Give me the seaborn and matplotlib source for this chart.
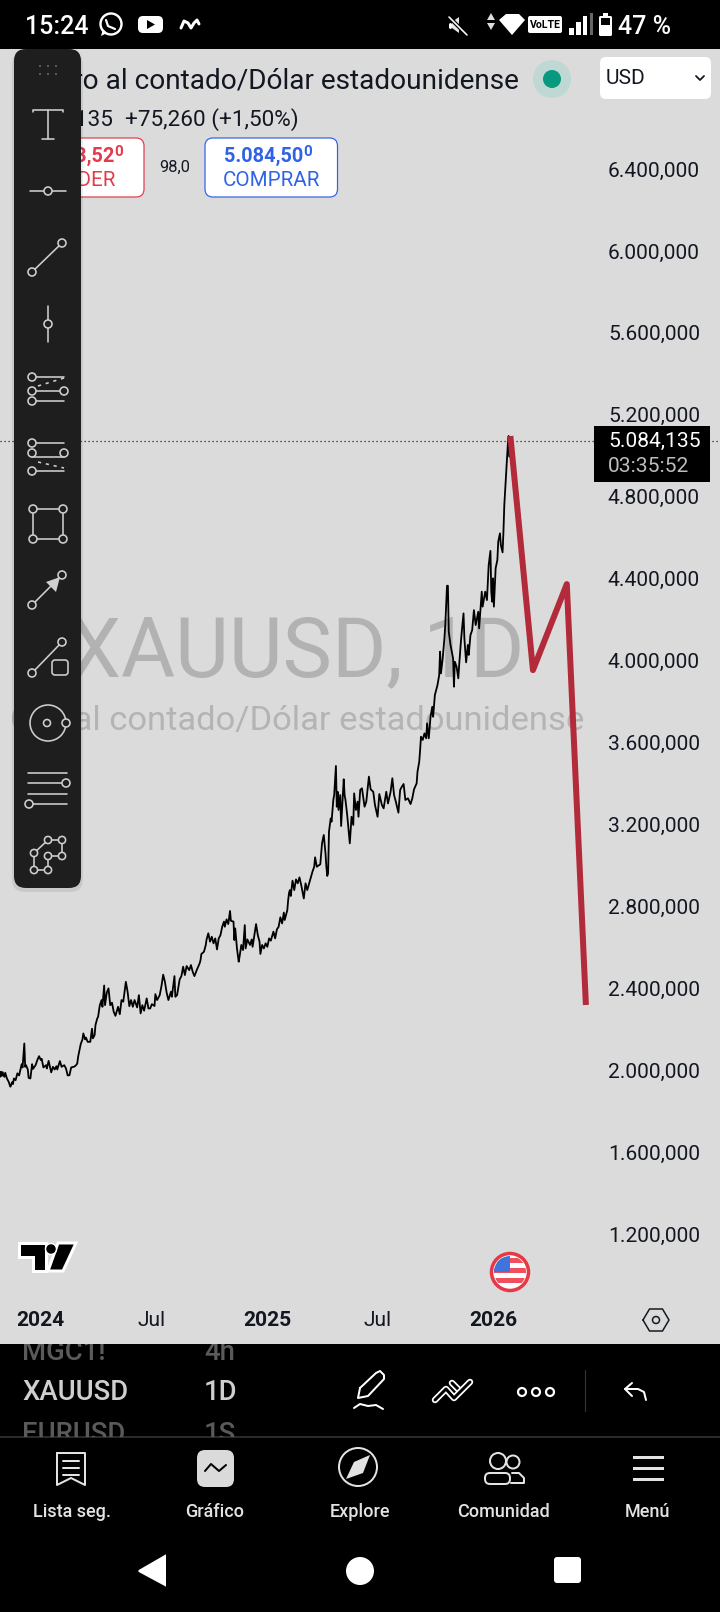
import matplotlib
matplotlib.use("Agg")
import matplotlib.pyplot as plt
import seaborn as sns
import pandas as pd
from matplotlib.patches import Circle, FancyBboxPatch, Polygon, Rectangle
from matplotlib.transforms import ScaledTranslation

# ---------- DATA ----------
# trading-session number (0 = first visible session) and XAUUSD price, thousands of the axis unit
bars = [0,1,2,3,5,6,8,10,11,12,14,15,16,18,20,22,23,25,26,28,29,30,32,33,35,37,38,41,43,45,47,48,50,53,54,56,58,59,
        61,63,65,66,69,71,74,76,78,80,82,85,87,89,90,92,93,95,96,98,99,101,104,106,107,109,110,112,113,115,117,118,
        120,121,123,125,127,129,131,133,136,138,140,142,145,147,149,151,153,155,158,160,162,164,166,169,171,173,
        175,178,179,181,184,186,188,190,192,194,197,198,201,202,204,207,209,211,213,215,218,220,222,224,227,230,
        231,232,235,237,238,240,242,244,246,248,250,252,254,256,258,259,261,263,265,266,269,270,271,273,275,276,
        278,280,282,283,285,288,290,291,293,295,297,299,300,302,304,306,308,310,312,315,317,319,321,323,325,327,
        328,331,332,333,334,335,337,339,341,343,345,347,350,352,354,356,360,362,363,365,369,371,373,375,376,377,
        378,379,381,382,384,385,387,388,389,390,392,393,396,397,398,400,401,403,405,407,408,410,412,413,415,417,
        420,422,425,427,430,432,435,437,440,442,445,447,450,452,454,456,459,461,463,465,467,470,473,475,477,480,
        481,483,484,485,487,489,491,492,494,496,498,499,501,504,506,507,508,510,512,513,515,516,517,519,522,523,
        524,526,528,529,531,532,534,535,537,539,540,542,544,546,548,551,552,555,556,559,561,563,565,566,567,568,
        569,571,573,574,576,577,579,580,581,583,584,585,586,587,588]
prices = [1972,1997,1976,1995,1972,1992,1964,1948,1935,1924,1946,1937,1964,1956,1989,1979,1997,2034,2018,2135,2021,
          2029,2008,1967,1964,2034,2011,2029,2054,2073,2054,2060,2018,2029,2013,2050,2013,1994,2021,2008,2024,2008,
          2049,2021,2029,2013,1979,1980,2018,2021,2026,2037,2070,2111,2132,2155,2184,2155,2164,2143,2143,2207,2160,
          2176,2225,2257,2265,2322,2347,2314,2418,2322,2383,2404,2322,2334,2290,2270,2314,2278,2347,2339,2436,2387,
          2317,2347,2314,2347,2311,2371,2282,2322,2295,2355,2306,2306,2327,2318,2376,2347,2371,2415,2471,2436,2383,
          2347,2388,2363,2464,2363,2371,2448,2464,2510,2469,2513,2493,2518,2485,2464,2497,2526,2542,2572,2583,2615,
          2643,2673,2632,2656,2624,2648,2594,2648,2664,2705,2730,2705,2741,2718,2782,2734,2730,2640,2697,2599,2534,
          2559,2616,2591,2713,2599,2643,2616,2643,2607,2664,2718,2664,2632,2572,2616,2599,2624,2607,2648,2637,2681,
          2648,2692,2705,2751,2721,2774,2738,2786,2835,2871,2884,2855,2930,2884,2936,2917,2946,2909,2843,2917,2884,
          2914,2974,2998,3044,2998,3010,3112,3153,3063,2998,2953,2966,3169,3234,3218,3324,3348,3490,3291,3364,3275,
          3348,3197,3425,3348,3324,3250,3202,3112,3242,3202,3356,3275,3316,3242,3373,3381,3291,3316,3438,3376,3364,
          3299,3242,3353,3299,3283,3364,3307,3364,3430,3348,3316,3262,3373,3389,3402,3324,3332,3304,3332,3376,3405,
          3462,3511,3568,3633,3617,3649,3625,3698,3625,3730,3779,3730,3836,3885,3934,4048,3942,4015,4113,4178,4370,
          4370,4146,4081,4015,3877,3999,3975,3918,3983,4097,4146,4235,4113,3996,4081,4032,4129,4154,4251,4178,4243,
          4162,4341,4268,4341,4300,4471,4540,4341,4292,4406,4268,4455,4496,4585,4626,4569,4533,4634,4764,4911,4992,
          5057,5101,5000,5074]
forecast_bars = [588, 614, 653, 675]
forecast_prices = [5101, 3958, 4378, 2323]
last_price = 5084.135
y_ticks = [1200, 1600, 2000, 2400, 2800, 3200, 3600, 4000, 4400, 4800, 5200, 5600, 6000, 6400]
y_labels = ["1.200,000", "1.600,000", "2.000,000", "2.400,000", "2.800,000", "3.200,000", "3.600,000",
            "4.000,000", "4.400,000", "4.800,000", "5.200,000", "5.600,000", "6.000,000", "6.400,000"]
x_ticks = [46, 175, 308, 435, 568]
x_labels = ["2024", "Jul", "2025", "Jul", "2026"]

# ---------- STYLE ----------
sns.set_theme(style="white")
plt.rcParams["font.family"] = ["Roboto", "DejaVu Sans"]
W, H = 720, 1612
PX = 0.72
BG = "#DBDBDB"
INK = "#131722"

fig = plt.figure(figsize=(W / 100, H / 100), dpi=100, facecolor="black")
TOP, BOTTOM = 49, 1344
ax = fig.add_axes([0, 1 - BOTTOM / H, 1, (BOTTOM - TOP) / H], facecolor=BG, zorder=1)
ui = fig.add_axes([0, 0, 1, 1], facecolor="none", zorder=2)
ui.set_xlim(0, W); ui.set_ylim(H, 0); ui.axis("off")

# ---------- CHART ----------
PX_PER_BAR, PX_PER_K, Y_REF_PX, Y_REF = 0.868, 0.2048, 170, 6400
ax.set_xlim(0, W / PX_PER_BAR)
ax.set_ylim(Y_REF - (BOTTOM - Y_REF_PX) / PX_PER_K, Y_REF + (Y_REF_PX - TOP) / PX_PER_K)

ohlc = pd.DataFrame({"bar": bars, "price": prices})
fc = pd.DataFrame({"bar": forecast_bars, "price": forecast_prices})
sns.lineplot(data=ohlc, x="bar", y="price", ax=ax, color="black", lw=1.3, estimator=None, sort=False, zorder=3)
sns.lineplot(data=fc, x="bar", y="price", ax=ax, color="#B32A3A", lw=6 * PX, estimator=None, sort=False, zorder=4,
             solid_joinstyle="round", solid_capstyle="butt")
price_line = ax.axhline(last_price, color="#222222", lw=0.9, ls=(0, (1, 2.2)), zorder=2)
price_line.set_transform(price_line.get_transform() + ScaledTranslation(0, -2 / 100, fig.dpi_scale_trans))
ax.set_xlabel(""); ax.set_ylabel("")
for s in ax.spines.values():
    s.set_visible(False)
ax.yaxis.tick_right()
ax.set_yticks(y_ticks)
ax.set_yticklabels(y_labels, ha="right", fontsize=21 * PX, color=INK)
ax.tick_params(axis="y", length=0, pad=-20 * PX)
for tick in ax.yaxis.get_major_ticks():
    tick.label2.set_transform(tick.label2.get_transform() + ScaledTranslation(0, 1 / 100, fig.dpi_scale_trans))
ax.set_xticks(x_ticks)
ax.set_xticklabels(x_labels, va="center", fontsize=21 * PX, color=INK)
for lab in ax.get_xticklabels():
    if lab.get_text() != "Jul":
        lab.set_fontweight("bold")
ax.tick_params(axis="x", length=0, pad=-24 * PX)

# watermark, behind the series
ax.text(297, 645, "XAUUSD, 1D", transform=ui.transData, ha="center", va="center_baseline", fontsize=83 * PX,
        color="#B2B2B2", zorder=1)
ax.text(297, 717, "Oro al contado/Dólar estadounidense", transform=ui.transData, ha="center",
        va="center_baseline", fontsize=34.5 * PX, color="#B4B4B4", zorder=1)


# ---------- UI HELPERS (pixel space) ----------
def T(x, y, s, px, color=INK, ha="left", weight="normal", z=3, **kw):
    return ui.text(x, y, s, fontsize=px * PX, color=color, ha=ha, va="center_baseline", fontweight=weight, zorder=z, **kw)


def RR(x0, y0, x1, y1, r, fc, ec="none", lw=0, z=2, alpha=None):
    p = FancyBboxPatch((x0 + r, y0 + r), x1 - x0 - 2 * r, y1 - y0 - 2 * r, boxstyle=f"round,pad={r},rounding_size={r}",
                       fc=fc, ec=ec, lw=lw * PX, zorder=z, alpha=alpha)
    ui.add_patch(p)
    return p


def L(pts, color="#FFFFFF", lw=2, z=6, **kw):
    xs, ys = zip(*pts)
    kw.setdefault("solid_capstyle", "round")
    kw.setdefault("solid_joinstyle", "round")
    ui.plot(xs, ys, color=color, lw=lw * PX, zorder=z, **kw)


def O(x, y, r, ec="#FFFFFF", fc="none", lw=2, z=7):
    ui.add_patch(Circle((x, y), r, fc=fc, ec=ec, lw=lw * PX, zorder=z))


def P(pts, fc="#FFFFFF", ec="none", lw=0, z=6, **kw):
    ui.add_patch(Polygon(pts, closed=True, fc=fc, ec=ec, lw=lw * PX, zorder=z, **kw))


# ---------- HEADER ----------
T(519, 78, "Oro al contado/Dólar estadounidense", 28, ha="right")
T(113, 117, "5.084,135", 22.5, ha="right")
T(125, 117, "+75,260 (+1,50%)", 22.5)
O(552, 79, 19, ec="none", fc="#BFD8D4", z=2)
O(552, 79, 9, ec="none", fc="#089981", z=3)
RR(600, 57, 711, 99, 6, "white")
T(606, 77, "USD", 21, z=3)
L([(696, 76), (700, 80), (704, 76)], color=INK, lw=1.8, z=3)

RED, BLUE = "#E23B4B", "#2F62E6"
RR(50, 138, 144, 197, 8, "white", ec=RED, lw=1.2)
T(114, 154, "5.083,52", 20, RED, ha="right", weight="bold", z=3)
T(114.5, 150, "0", 15, RED, weight="bold", z=3)
T(116, 179, "VENDER", 20.5, RED, ha="right", z=3)
T(174.5, 166, "98,0", 16.5, ha="center")
RR(205, 138, 337.5, 197, 8, "white", ec=BLUE, lw=1.2)
T(303, 154, "5.084,50", 20, BLUE, ha="right", weight="bold", z=3)
T(303.5, 150, "0", 15, BLUE, weight="bold", z=3)
T(271, 179, "COMPRAR", 20.5, BLUE, ha="center", z=3)

# price tag
ui.add_patch(Rectangle((594, 426), 116, 56, fc="black", ec="none", zorder=3))
T(608, 439, "5.084,135", 21, "white", z=4)
T(608, 465, "03:35:52", 21, "#BDBDBD", z=4)

# ---------- STATUS BAR ----------
T(25, 25, "15:24", 25, "white", weight="medium")
O(111, 24, 10.5, lw=2.4)
P([(101, 36), (103, 29), (107, 33)])
L([(106, 20), (108, 26), (115, 29)], lw=2.2)
RR(138, 16, 163, 33, 5, "white")
P([(147, 20), (147, 29), (155, 24.5)], fc="black")
L([(181, 28), (184, 21), (188, 23), (191, 28), (194, 23), (197, 20), (199, 24)], lw=3)
L([(450, 24), (450, 27)], lw=3)
P([(452, 22), (459, 17), (459, 33), (452, 28)], fc="#E6E6E6")
L([(449, 17), (467, 35)], color="black", lw=4, z=7)
L([(449, 17), (467, 35)], color="white", lw=1.6, z=8)
P([(491, 13), (487, 20), (495, 20)], fc="#DDDDDD")
P([(487, 23), (495, 23), (491, 30)], fc="#DDDDDD")
P([(499, 20), (506, 14), (519, 14), (525, 20), (512, 35)])
RR(528, 16, 562, 33, 2, "white", z=5)
T(545, 24.5, "VoLTE", 10.5, "black", ha="center", weight="bold", z=6)
for x0, x1, y0, col in [(569, 574, 28, "white"), (576, 581, 22, "white"), (583, 587, 16, "white"), (590, 593, 13, "#666666")]:
    ui.add_patch(Rectangle((x0, y0), x1 - x0, 35 - y0, fc=col, ec="none", zorder=5))
RR(599, 16, 612, 36, 1.5, "white", z=5)
ui.add_patch(Rectangle((603, 13), 5, 3, fc="white", ec="none", zorder=5))
ui.add_patch(Rectangle((601, 18), 9, 7, fc="black", ec="none", zorder=6))
T(618, 25, "47 %", 25, "white", weight="medium")

# ---------- TOOLBAR ----------
RR(12, 52, 83, 892, 13, "black", z=4, alpha=0.08)
RR(14, 49, 81, 888, 12, "#1E1E1E", z=5)
TC = "#CFCFCF"
TX = 48


def C(x, y, r=4):
    O(x, y, r, ec=TC, fc="#1E1E1E", lw=1.6, z=8)


def TL(pts, **kw):
    L(pts, color=TC, lw=1.6, z=7, **kw)


for dx in (-8, 0, 8):
    for dy in (-4, 4):
        ui.add_patch(Rectangle((TX + dx - 1.2, 70 + dy - 1.2), 2.4, 2.4, fc="#5A5A5A", ec="none", zorder=7))
TL([(33, 112), (33, 110), (63, 110), (63, 112)]); TL([(48, 110), (48, 139)]); TL([(42, 139), (54, 139)])
TL([(30, 191), (66, 191)]); C(48, 191)
TL([(32, 272), (62, 243)]); C(32, 272); C(62, 243)
TL([(48, 306), (48, 342)]); C(48, 324)
for yy, x0, x1 in [(377, 32, 64), (391, 32, 64), (401, 32, 64)]:
    TL([(x0, yy), (x1, yy)])
TL([(38, 386), (64, 378)], ls=(0, (2, 3)))
C(32, 377); C(32, 391); C(64, 391); C(32, 401)
for yy in (443, 457, 471):
    TL([(32, yy), (64, yy)])
TL([(38, 462), (64, 468)], ls=(0, (2, 3)))
C(32, 443); C(32, 453); C(64, 453); C(32, 471)
L([(33, 509), (63, 509), (63, 539), (33, 539), (33, 509)], color=TC, lw=1.6, z=7)
for a, b in [(33, 509), (63, 509), (63, 539), (33, 539)]:
    C(a, b)
TL([(32, 605), (62, 575)]); C(32, 605); C(62, 575)
P([(60, 577), (46, 582), (56, 592)], fc=TC, z=8)
TL([(32, 673), (62, 642)]); C(32, 673); C(62, 642)
RR(52, 660, 68, 675, 3, "#1E1E1E", ec=TC, lw=1.6, z=8)
O(48, 723, 18, ec=TC, lw=1.6, z=7); C(47, 723, 3.5); C(66, 723)
for yy, x0, x1 in [(773, 28, 67), (783, 28, 62), (794, 28, 67), (804, 33, 67)]:
    TL([(x0, yy), (x1, yy)])
C(66, 783); C(29, 804)
TL([(34, 853), (48, 840), (62, 840), (62, 856), (48, 856), (48, 870), (34, 870), (34, 853)])
for a, b in [(34, 853), (48, 840), (62, 840), (62, 856), (48, 856), (48, 870), (34, 870)]:
    C(a, b, 3.6)

# ---------- TV LOGO + FLAG ----------
P([(19, 1243), (46, 1243), (46, 1271), (33, 1271), (33, 1257), (19, 1257)], fc="black", ec="white", lw=3, z=4)
P([(58, 1243), (76, 1243), (63, 1271), (48, 1271)], fc="black", ec="white", lw=3, z=4)
O(51, 1249, 5.5, ec="white", fc="black", lw=1.5, z=5)

clip = Circle((510, 1272), 16, transform=ui.transData)
O(510, 1272, 18.5, ec="#E53945", fc="white", lw=3.5, z=4)
for y0 in (1258, 1268, 1278):
    r = ui.add_patch(Rectangle((494, y0), 34, 5, fc="#F0505E", ec="none", zorder=5)); r.set_clip_path(clip)
r = ui.add_patch(Rectangle((494, 1256), 16, 16, fc="#3E74DB", ec="none", zorder=6)); r.set_clip_path(clip)

# hexagon settings
L([(643, 1320), (649.5, 1309), (662.5, 1309), (669, 1320), (662.5, 1331), (649.5, 1331), (643, 1320)], color=INK, lw=1.5, z=3)
O(656, 1320, 3.5, ec=INK, lw=1.5, z=3)

# ---------- BOTTOM PANEL ----------
panel = Rectangle((0, BOTTOM), W, 1437 - BOTTOM, transform=ui.transData)
for x, y, s, col, px, wgt in [(22, 1349, "MGC1!", "#5A5A5A", 27.5, "medium"), (204, 1349, "4h", "#5A5A5A", 27.5, "medium"),
                              (22, 1390, "XAUUSD", "#CFCFCF", 27.5, "medium"), (204, 1390, "1D", "#CFCFCF", 27.5, "medium"),
                              (22, 1431, "EURUSD", "#5A5A5A", 27.5, "medium"), (204, 1431, "1S", "#5A5A5A", 27.5, "medium")]:
    t = T(x, y, s, px, col, weight=wgt)
    t.set_clip_path(panel)
    t.set_clip_on(True)
ui.add_patch(Rectangle((0, 1436), W, 2, fc="#2A2A2A", ec="none"))
L([(585, 1370), (585, 1411)], color="#333333", lw=1.2)

# pencil
L([(360, 1388), (376, 1373), (380, 1371), (384, 1375), (384, 1379), (368, 1396), (358, 1398), (360, 1388)], lw=2)
L([(354, 1408), (360, 1404), (368, 1406), (376, 1405), (383, 1409)], lw=2)
# double chevrons
for pts, z in (([(452, 1383), (460, 1391)], 6), ([(435, 1400), (446, 1389), (454, 1398), (470, 1382)], 8)):
    L(pts, lw=6.5, z=z)
    L(pts, color="black", lw=3, z=z + 1)
for cx in (522, 536, 550):
    O(cx, 1392, 4, lw=2.2)
L([(632, 1383), (625, 1389), (632, 1396)], lw=2)
L([(625, 1389), (638, 1389), (644, 1392), (646, 1400)], lw=2)

NAV = "#E3E3E3"
for x, s in [(72, "Lista seg."), (215, "Gráfico"), (360, "Explore"), (504, "Comunidad"), (647, "Menú")]:
    T(x, 1510, s, 18, NAV, ha="center", weight="medium")
L([(57, 1453), (85, 1453), (85, 1485), (71, 1478), (57, 1485), (57, 1453)], color=NAV, lw=2)
for yy in (1461, 1468, 1475):
    L([(63, yy), (79, yy)], color=NAV, lw=2)
RR(197, 1450, 234, 1487, 8, "#DADADA", z=5)
L([(205, 1471), (211, 1464), (219, 1471), (226, 1465)], color="black", lw=2)
O(358, 1467, 19, ec=NAV, lw=2)
P([(370, 1455), (363, 1473), (346, 1479), (354, 1462)], fc=NAV)
O(498, 1461, 8, ec=NAV, lw=2); O(513, 1462, 6.5, ec=NAV, lw=2)
RR(485, 1473, 510, 1484, 5, "black", ec=NAV, lw=2, z=6)
L([(512, 1473), (519, 1473), (524, 1478), (524, 1483), (511, 1483)], color=NAV, lw=2)
for yy in (1457, 1468, 1479):
    ui.add_patch(Rectangle((633, yy - 1.5), 31, 3, fc=NAV, ec="none", zorder=5))
P([(139, 1571), (165, 1556), (165, 1585)], lw=2, ec="white")
O(360, 1571, 14, fc="white", ec="none")
RR(554, 1557, 581, 1583, 3, "white")

fig.savefig("out.png", dpi=100, facecolor="black")
